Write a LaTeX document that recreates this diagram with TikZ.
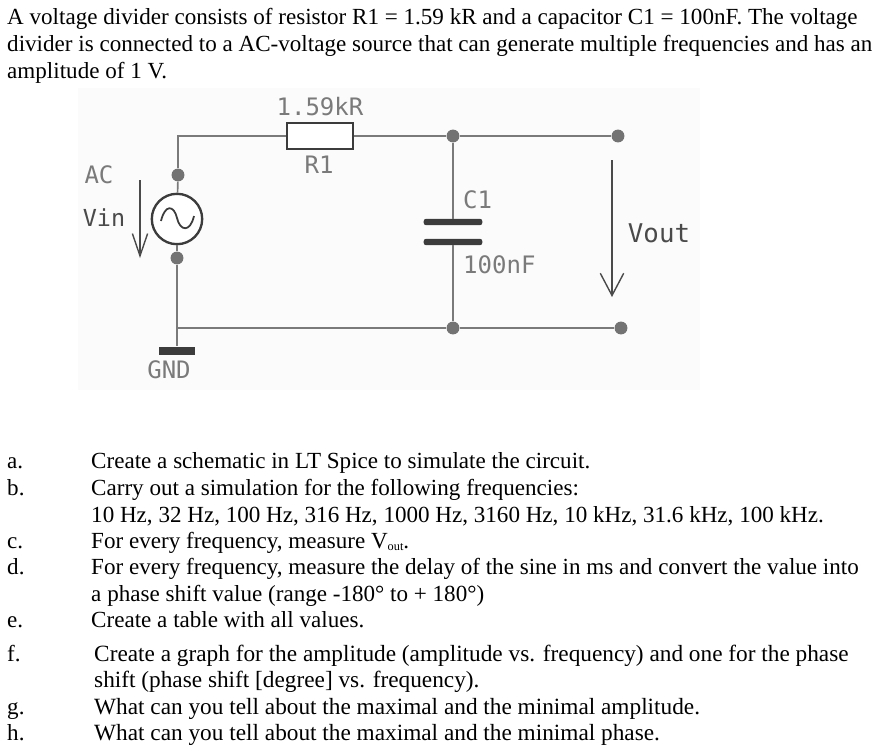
\documentclass[tikz,border=0pt]{standalone}
\usepackage{fontspec}
\setmainfont{Liberation Serif}
\newfontfamily\schfont{DejaVu Sans Mono}
\usetikzlibrary{arrows.meta}
\definecolor{wirecol}{HTML}{7A7A7A}
\definecolor{dotcol}{HTML}{737373}
\definecolor{bodycol}{HTML}{3C3C3C}
\definecolor{lblcol}{HTML}{7A7A7A}
\definecolor{darklbl}{HTML}{4A4A4A}
\definecolor{panelcol}{HTML}{FBFBFB}
\tikzset{
  wire/.style={draw=wirecol,line width=1.4pt},
  term/.style={circle,fill=dotcol,inner sep=0pt,minimum size=11pt},
  plate/.style={rectangle,rounded corners=2pt,fill=bodycol,inner sep=0pt,minimum width=50pt,minimum height=5.5pt},
  sch/.style={font=\schfont\fontsize{20.5}{22}\selectfont,text=lblcol,inner sep=0pt},
  volt/.style={font=\schfont\fontsize{20}{22}\selectfont,text=darklbl,inner sep=0pt},
  varrow/.style={draw=darklbl,line width=1.2pt},
  para/.style={font=\fontsize{19.7}{22}\selectfont,text=black,anchor=base west,inner sep=0pt},
  parb/.style={para,font=\fontsize{19.87}{22}\selectfont},
}
\begin{document}
\begin{tikzpicture}[x=0.03cm,y=-0.03cm]
\useasboundingbox (0,0) rectangle (882,751);
\fill[panelcol] (78,88) rectangle (700,390);

% question text
\node[para] (q1) at (7,24) {A voltage divider consists of resistor R1 = 1.59 kR and a capacitor C1 = 100nF. The voltage};
\node[para] (q2) at (7,51) {divider is connected to a AC-voltage source that can generate multiple frequencies and has an};
\node[para] (q3) at (7,78) {amplitude of 1 V.};

% circuit parts
\node[term] (Tin) at (178,175) {};
\node[circle,draw=bodycol,line width=2pt,fill=white,inner sep=0pt,minimum size=43pt] (Src) at (177,219) {};
\draw[bodycol,line width=1.5pt] (161,221) .. controls (165,204) and (174,205) .. (177,218) .. controls (180,231) and (190,233) .. (194,216);
\node[term] (Tgnd) at (177,258) {};
\node[rectangle,draw=bodycol,line width=2.2pt,fill=white,inner sep=0pt,minimum width=56pt,minimum height=22pt] (R1) at (320,136) {};
\node[term] (Ntop) at (453,136) {};
\node[term] (Otop) at (618,136) {};
\node[term] (Nbot) at (453,328) {};
\node[term] (Obot) at (621,328) {};
\node[plate] (Pa) at (453,222) {};
\node[plate] (Pb) at (453,242) {};
\node[rectangle,fill=bodycol,inner sep=0pt,minimum width=30pt,minimum height=7.5pt] (Gnd) at (177,351) {};
\coordinate (Jbot) at (177,328);

\draw[wire] (Tin) |- (R1.west);
\draw[wire] (Tin) -- (Src);
\draw[wire] (R1.east) -- (Ntop);
\draw[wire] (Ntop) -- (Otop);
\draw[wire] (Ntop) -- (Pa);
\draw[wire] (Pb) -- (Nbot);
\draw[wire] (Nbot) -- (Obot);
\draw[wire] (Jbot) -- (Nbot);
\draw[wire] (Src) -- (Tgnd);
\draw[wire] (Tgnd) -- (Gnd);

% labels
\node[sch] (Lr) at (320,107) {1.59kR};
\node[sch] (Lrn) at (319,165) {R1};
\node[sch] (Lac) at (99,175) {AC};
\node[volt] (Lvin) at (104,218) {Vin};
\node[sch] (Lgnd) at (169,370) {GND};
\node[sch,anchor=west] (Lc) at (463,200) {C1};
\node[sch,anchor=west] (Lcv) at (463,265) {100nF};
\node[volt,font=\schfont\fontsize{22}{24}\selectfont] (Lout) at (659,233) {Vout};

% voltage arrows
\coordinate (VinA) at (140,180);
\coordinate (VinB) at (140,258);
\coordinate (VoutA) at (612,160);
\coordinate (VoutB) at (612,297);
\draw[varrow,-{Straight Barb[length=19pt,width=13pt,line width=1.2pt]}] (VinA) -- (VinB);
\draw[varrow,-{Straight Barb[length=19pt,width=20pt,line width=1.2pt]}] (VoutA) -- (VoutB);

% task list
\node[para] (a) at (7,468) {a.};
\node[para] (b) at (7,495) {b.};
\node[para] (c) at (7,548) {c.};
\node[para] (d) at (7,574) {d.};
\node[para] (e) at (7,627) {e.};
\node[para] (f) at (7,661) {f.};
\node[para] (g) at (7,714) {g.};
\node[para] (h) at (7,740) {h.};
\node[para] (ta) at (91,468) {Create a schematic in LT Spice to simulate the circuit.};
\node[para] (tb) at (91,495) {Carry out a simulation for the following frequencies:};
\node[para] (tb2) at (91,522) {10 Hz, 32 Hz, 100 Hz, 316 Hz, 1000 Hz, 3160 Hz, 10 kHz, 31.6 kHz, 100 kHz.};
\node[para] (tc) at (91,548) {For every frequency, measure V{\fontsize{10.5}{10}\selectfont\raisebox{-2pt}{out}}.};
\node[para] (td) at (91,574) {For every frequency, measure the delay of the sine in ms and convert the value into};
\node[para] (td2) at (91,601) {a phase shift value (range -180° to + 180°)};
\node[para] (te) at (91,627) {Create a table with all values.};
\node[parb] (tf) at (94,661) {Create a graph for the amplitude (amplitude vs. frequency) and one for the phase};
\node[parb] (tf2) at (94,687) {shift (phase shift [degree] vs. frequency).};
\node[parb] (tg) at (94,714) {What can you tell about the maximal and the minimal amplitude.};
\node[parb] (th) at (94,740) {What can you tell about the maximal and the minimal phase.};
\end{tikzpicture}
\end{document}
